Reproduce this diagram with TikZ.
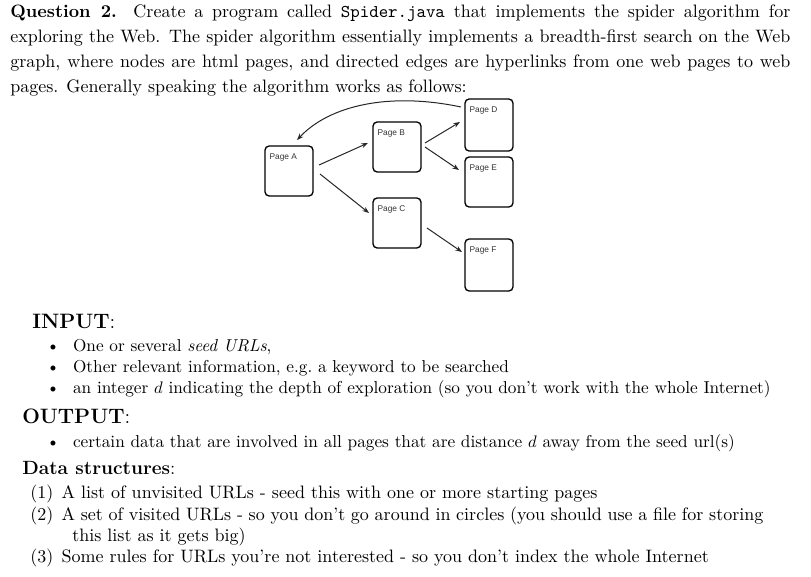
\documentclass[tikz,border=0pt]{standalone}
\usepackage{fontspec}
\newfontfamily\arial{Liberation Sans}
\usetikzlibrary{arrows.meta}
\begin{document}
\begin{tikzpicture}[x=0.6pt,y=-0.6pt,
  page/.style={draw,thick,rounded corners=2.5pt,minimum width=48*0.6pt,minimum height=50*0.6pt,inner sep=0pt},
  lbl/.style={font=\arial\fontsize{5}{6}\selectfont,text=black!80,anchor=north west,inner sep=0pt,xshift=3pt,yshift=-5pt},
  big/.style={anchor=west,inner sep=0pt,font=\fontsize{10.35}{13}\selectfont},
  dat/.style={anchor=west,inner sep=0pt,font=\fontsize{10.8}{13}\selectfont},
  arr/.style={-{Stealth[length=4pt,width=3pt]},black!85,semithick}]
\useasboundingbox (0,0) rectangle (811,577);
% paragraph
\node[anchor=north west,inner sep=0pt,text width=780*0.6pt,align=justify,font=\fontsize{10.8}{15}\selectfont] (para) at (10,4)
{\textbf{Question 2.} Create a program called \texttt{Spider.java} that implements the spider algorithm for\linebreak exploring the Web. The spider algorithm essentially implements a breadth-first search on the Web\linebreak graph, where nodes are html pages, and directed edges are hyperlinks from one web pages to web\linebreak pages. Generally speaking the algorithm works as follows:};
% diagram
\node[page] (A) at (289,171) {}; \node[lbl] at (A.north west) {Page A};
\node[page] (B) at (397,147) {}; \node[lbl] at (B.north west) {Page B};
\node[page] (C) at (397,223) {}; \node[lbl] at (C.north west) {Page C};
\node[page,minimum height=52*0.6pt] (D) at (489,125) {}; \node[lbl] at (D.north west) {Page D};
\node[page] (E) at (489,182) {}; \node[lbl] at (E.north west) {Page E};
\node[page,minimum height=52*0.6pt] (F) at (489,265) {}; \node[lbl] at (F.north west) {Page F};
\draw[arr] (319,165) -- (368,143);
\draw[arr] (320,174) -- (369,213);
\draw[arr] (425,143) -- (460,122);
\draw[arr] (425,147) -- (459,170);
\draw[arr] (427,228) -- (462,252);
\draw[arr] (461,107) .. controls (390,92) and (330,105) .. (297,140);
% lists
\node[big,font=\fontsize{12.5}{14}\selectfont\bfseries] (in) at (32,321) {INPUT\textmd{:}};
\foreach \y/\t [count=\i] in {347/{One or several \emph{seed URLs},},368/{Other relevant information, e.g.\ a keyword to be searched},389/{an integer $d$ indicating the depth of exploration (so you don't work with the whole Internet)}}
  {\node[big] (b\i) at (46,\y) {\textbullet\hspace{8pt}\t};}
\node[big,font=\fontsize{12.5}{14}\selectfont\bfseries] (out) at (22,416) {OUTPUT\textmd{:}};
\node[big] (o1) at (46,443) {\textbullet\hspace{8pt}certain data that are involved in all pages that are distance $d$ away from the seed url(s)};
\node[big,font=\fontsize{11.5}{13}\selectfont\bfseries] (ds) at (22,468) {Data structures\textmd{:}};
\node[dat] (d1) at (30,494) {(1)\hspace{5pt}A list of unvisited URLs - seed this with one or more starting pages};
\node[dat] (d2) at (30,516) {\makebox[439.8pt][s]{(2)\hspace{5pt}A set of visited URLs - so you don't go around in circles (you should use a file for storing}};
\node[dat] (d2b) at (72,537) {this list as it gets big)};
\node[dat] (d3) at (30,558) {(3)\hspace{5pt}Some rules for URLs you're not interested - so you don't index the whole Internet};
\end{tikzpicture}
\end{document}
